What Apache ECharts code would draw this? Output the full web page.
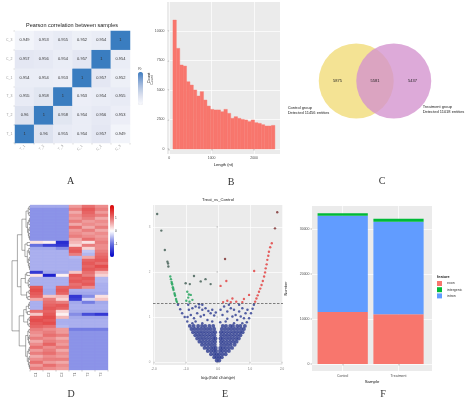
<!DOCTYPE html>
<html><head><meta charset="utf-8">
<script src="https://cdn.jsdelivr.net/npm/echarts@6/dist/echarts.min.js"></script>
<style>html,body{margin:0;padding:0;background:#fff}#c{width:474px;height:399px}</style>
</head><body><div id="c"></div>
<script>
// ---------- A: Pearson correlation ----------
const corrSamples = ['T_1','T_2','T_3','C_1','C_2','C_3'];
const corrValues = [
  [1, 0.96, 0.955, 0.954, 0.957, 0.949],
  [0.96, 1, 0.958, 0.954, 0.956, 0.953],
  [0.955, 0.958, 1, 0.953, 0.954, 0.955],
  [0.954, 0.954, 0.953, 1, 0.957, 0.952],
  [0.957, 0.956, 0.954, 0.957, 1, 0.954],
  [0.949, 0.953, 0.955, 0.952, 0.954, 1]
];
// ---------- B: length histogram ----------
const lengthBinStarts = [90,170,250,330,410,490,570,650,730,810,890,970,1050,1130,1210,1290,1370,1450,1530,1610,1690,1770,1850,1930,2010,2090,2170,2250,2330,2410];
const lengthBinWidth = 80;
const lengthCounts = [10930,8530,7120,7030,5700,5420,5000,4490,4860,4150,3640,3360,3310,3310,3160,3360,3020,2600,2740,2600,2510,2460,2320,2460,2230,2170,2060,1950,1950,2000];
const lengthTicks = [0,1000,2000];
const countTicks = [0,2500,5000,7500,10000];
// ---------- C: Venn ----------
const vennGroups = ['Control group','Treatment group'];
const vennOnly = [5875, 5437];
const vennShared = 5581;
// ---------- D: expression heatmap ----------
const heatCols = ['C1','C2','C3','T1','T2','T3'];
const heatRows = [
 [-0.6,-0.6,-0.6,0.7,1.0,0.8],
 [-0.75,-0.75,-0.75,0.9,1.2,0.9],
 [-0.75,-0.75,-0.75,0.6,1.1,0.7],
 [-0.75,-0.75,-0.75,0.8,1.0,0.9],
 [-0.75,-0.75,-0.75,0.7,0.9,0.6],
 [-0.75,-0.75,-0.75,0.9,0.7,0.8],
 [-0.75,-0.75,-0.75,0.6,0.8,0.7],
 [-0.75,-0.75,-0.75,1.0,0.6,0.9],
 [-0.75,-0.75,-0.75,0.7,0.9,0.6],
 [-0.75,-0.75,-0.75,0.8,0.7,0.8],
 [-0.75,-0.75,-0.75,0.9,0.8,0.7],
 [-0.75,-0.75,-0.75,0.6,1.0,0.8],
 [0.2,0.1,-1.6,0.5,0.2,0.9],
 [-1.0,-1.4,-1.5,0.3,0.9,0.8],
 [-0.6,-0.6,-0.8,1.1,0.3,0.8],
 [-0.55,-0.55,-0.55,1.2,-0.4,0.9],
 [-0.55,-0.55,-0.55,0.9,-0.5,1.0],
 [-0.55,-0.55,-0.55,-0.5,0.6,1.1],
 [-0.55,-0.55,-0.55,-0.55,1.1,1.2],
 [-0.55,-0.55,-0.55,-0.55,1.2,1.0],
 [-0.55,-0.55,-0.55,-0.55,1.1,1.3],
 [-0.55,-0.55,-0.55,-0.55,1.2,1.1],
 [-1.5,-0.6,-0.6,0.4,1.0,0.5],
 [0.2,-1.7,0.1,1.2,0.9,0.3],
 [-0.55,-0.55,-0.55,1.1,1.2,-0.5],
 [-0.55,-0.55,-0.55,1.2,1.1,-0.5],
 [-0.55,-0.55,-0.55,1.0,1.2,-0.55],
 [1.2,-0.55,1.1,1.1,0.8,-0.55],
 [1.3,-0.6,1.2,-0.55,-0.55,-0.55],
 [1.2,-0.6,1.1,-0.6,-0.6,-0.6],
 [1.1,0.4,0.5,-1.5,-0.8,0.2],
 [0.6,0.9,0.3,-1.4,-0.3,0.4],
 [-0.55,1.0,0.9,-0.6,-0.9,-0.6],
 [-0.55,1.1,1.2,-0.55,-0.55,-0.55],
 [-0.55,1.2,1.1,-0.55,-0.55,-0.55],
 [1.0,1.1,0.3,-0.6,-0.6,-0.6],
 [0.4,1.2,0.1,-0.8,-1.3,-1.5],
 [1.2,1.3,0.5,-0.6,-0.6,-0.6],
 [1.3,1.2,-0.55,-0.55,-0.55,-0.55],
 [1.2,1.3,-0.55,-0.55,-0.55,-0.55],
 [1.1,1.0,-0.5,-0.55,-0.55,-0.55],
 [0.9,0.8,0.7,-0.9,-0.9,-0.9],
 [0.8,0.9,0.7,-0.75,-0.75,-0.75],
 [0.7,1.0,0.9,-0.75,-0.75,-0.75],
 [0.9,0.8,0.6,-0.75,-0.75,-0.75],
 [0.6,0.9,0.8,-0.75,-0.75,-0.75],
 [0.8,1.1,0.7,-0.75,-0.75,-0.75],
 [1.0,0.8,0.9,-0.75,-0.75,-0.75],
 [0.7,0.9,0.6,-0.75,-0.75,-0.75],
 [0.9,1.0,0.8,-0.75,-0.75,-0.75],
 [0.6,0.8,0.7,-0.75,-0.75,-0.75],
 [0.8,0.9,0.9,-0.75,-0.75,-0.75],
 [1.0,0.7,0.6,-0.75,-0.75,-0.75],
 [0.7,1.0,0.8,-0.75,-0.75,-0.75],
 [0.9,0.8,0.7,-0.75,-0.75,-0.75]
];
// dendrogram: [height, left, right], leaves are row indices
const treeA = [2.2,[1.0,[0.5,0,1],[0.6,2,3]],[1.4,[0.7,[0.3,4,5],6],[0.9,[0.4,7,8],[0.6,9,[0.3,10,11]]]]];
const treeBC = [2.8,[1.6,12,13],[1.5,[0.7,14,[0.3,15,16]],[0.9,[0.4,17,18],[0.5,19,[0.3,20,21]]]]];
const treeDE = [2.6,[1.8,22,23],[1.0,[0.5,24,25],[0.6,26,27]]];
const treeF = [1.9,[0.6,28,29],[1.2,30,31]];
const treeG = [2.1,[0.8,[0.4,32,33],34],[1.4,35,36]];
const treeH = [1.3,[0.5,37,38],[0.6,39,40]];
const treeI = [2.4,[1.2,[0.6,41,42],[0.8,[0.4,43,44],[0.3,45,46]]],[1.5,[0.7,[0.4,47,48],49],[0.9,[0.4,50,51],[0.5,52,[0.3,53,54]]]]];
const treeRoot = [10,[7,[4.5,treeA,treeBC],[5,treeDE,treeF]],[6,[3.5,treeG,treeH],treeI]];
// ---------- E: volcano ----------
const volcanoBlue = [
[-0.04,0.03],[0.04,0.03],
[-0.12,0.1],[-0.04,0.1],[0.04,0.1],[0.12,0.1],
[-0.22,0.17],[-0.12,0.17],[-0.04,0.17],[0.04,0.17],[0.14,0.17],[0.24,0.17],
[-0.32,0.24],[-0.22,0.24],[-0.13,0.24],[-0.06,0.24],[0.06,0.24],[0.14,0.24],[0.24,0.24],[0.34,0.24],
[-0.42,0.31],[-0.32,0.31],[-0.22,0.31],[-0.14,0.31],[-0.07,0.31],[0.07,0.31],[0.15,0.31],[0.24,0.31],[0.34,0.31],[0.44,0.31],
[-0.5,0.38],[-0.4,0.38],[-0.3,0.38],[-0.2,0.38],[-0.1,0.38],[0.1,0.38],[0.2,0.38],[0.3,0.38],[0.4,0.38],[0.52,0.38],
[-0.58,0.45],[-0.48,0.45],[-0.38,0.45],[-0.28,0.45],[-0.18,0.45],[-0.09,0.45],[0.09,0.45],[0.18,0.45],[0.28,0.45],[0.38,0.45],[0.48,0.45],[0.58,0.45],
[-0.65,0.52],[-0.55,0.52],[-0.45,0.52],[-0.35,0.52],[-0.25,0.52],[-0.15,0.52],[-0.08,0.52],[0.08,0.52],[0.16,0.52],[0.26,0.52],[0.36,0.52],[0.46,0.52],[0.56,0.52],[0.65,0.52],
[-0.71,0.59],[-0.61,0.59],[-0.51,0.59],[-0.41,0.59],[-0.31,0.59],[-0.21,0.59],[-0.11,0.59],[0.1,0.59],[0.2,0.59],[0.3,0.59],[0.4,0.59],[0.5,0.59],[0.6,0.59],[0.7,0.59],
[-0.78,0.66],[-0.68,0.66],[-0.58,0.66],[-0.48,0.66],[-0.38,0.66],[-0.28,0.66],[-0.18,0.66],[-0.09,0.66],[0.09,0.66],[0.18,0.66],[0.28,0.66],[0.38,0.66],[0.48,0.66],[0.58,0.66],[0.68,0.66],[0.77,0.66],
[-0.83,0.73],[-0.73,0.73],[-0.63,0.73],[-0.53,0.73],[-0.43,0.73],[-0.33,0.73],[-0.23,0.73],[-0.12,0.73],[0.12,0.73],[0.22,0.73],[0.32,0.73],[0.42,0.73],[0.52,0.73],[0.62,0.73],[0.72,0.73],[0.81,0.73],
[-0.88,0.8],[-0.76,0.8],[-0.62,0.8],[-0.5,0.8],[-0.4,0.8],[-0.27,0.8],[-0.15,0.8],[0.15,0.8],[0.25,0.8],[0.38,0.8],[0.47,0.8],[0.6,0.8],[0.7,0.8],[0.84,0.8],
[-0.96,0.9],[-1.04,1.0],[-1.12,1.08],[-1.18,1.17],[-1.25,1.27],
[0.9,0.88],[0.97,0.97],[1.03,1.08],[1.08,1.18],[1.12,1.27],
[-0.91,1.16],[-0.8,1.19],[-0.7,1.23],[-0.59,1.21],[-0.49,1.16],[-0.39,1.19],[-0.3,1.13],[-0.65,1.08],[-0.54,1.01],[-0.44,1.04],[-0.23,1.08],[-0.18,1.16],[-0.12,1.03],[-0.85,1.04],[-0.75,0.97],[-0.95,1.0],[-0.7,0.9],[-0.33,0.93],[-0.49,0.86],[-0.18,0.9],
[0.08,1.16],[0.19,1.23],[0.29,1.12],[0.4,1.19],[0.5,1.16],[0.55,1.04],[0.66,1.12],[0.76,1.19],[0.86,1.08],[0.45,1.01],[0.29,0.96],[0.14,1.04],[0.6,0.93],[0.81,0.97],[0.92,1.16],[0.71,1.01],[0.34,1.27],[0.24,0.9],[0.07,0.88],[-0.49,1.27],[-0.93,1.27],[0.5,0.86],[0.76,0.86],[-0.8,0.86],[-0.07,1.1],[-0.59,1.28],[0.66,1.27]
];
const volcanoGreen = [[-1.28,1.33],[-1.31,1.4],[-1.34,1.47],[-1.36,1.53],[-1.39,1.6],[-1.41,1.66],[-1.43,1.72],[-1.45,1.78],[-1.47,1.84],[-1.49,1.9],[-1.3,1.36],[-1.35,1.5],[-1.4,1.63],[-1.44,1.75],[-0.96,1.56],[-0.91,1.5],[-0.93,1.43],[-0.85,1.49],[-0.8,1.38],[-0.89,1.34],[-0.99,1.36]];
const volcanoGreenDark = [[-1.9,3.29],[-1.77,2.92],[-1.66,2.49],[-1.58,2.23],[-1.56,2.19],[-1.55,2.12],[-1.01,1.75],[-0.88,1.73],[-0.75,1.91],[-0.54,1.79],[-0.39,1.84],[-0.23,1.73]];
const volcanoRed = [[1.16,1.34],[1.2,1.41],[1.24,1.48],[1.28,1.56],[1.32,1.63],[1.36,1.71],[1.4,1.8],[1.44,1.9],[1.47,1.99],[1.49,2.08],[1.52,2.17],[1.54,2.27],[1.57,2.36],[1.59,2.45],[1.63,2.55],[1.68,2.64],[0.26,1.8],[0.08,1.69],[0.16,1.33],[0.29,1.36],[0.4,1.33],[0.45,1.41],[0.57,1.34],[0.81,1.4],[0.97,1.49],[0.76,1.33],[1.13,2.02]];
const volcanoRedDark = [[1.78,2.97],[1.85,3.33],[0.22,2.29]];
const pThreshold = 1.301;
const fcTicks = [-2,-1,0,1,2];
const logPTicks = [0,1,2,3];
// ---------- F: feature stacked bars ----------
const sampleNames = ['Control','Treatment'];
const exonCounts = [11550, 11040];
const intronCounts = [21400, 20580];
const intergenicCounts = [550, 620];
const numberTicks = [0,10000,20000,30000];

// ================= build =================
const FONT = 'Liberation Sans, Arial, sans-serif';
const lab = (o) => Object.assign({fontSize:3.5, color:'#4d4d4d', fontFamily:FONT, formatter:(v)=>String(v)}, o||{});
const tick = (vals) => ({show:true, length:1.5, customValues: vals, lineStyle:{color:'#555', width:0.4}});
const whiteSplit = {show:true, lineStyle:{color:'#ffffff', width:0.7}};

const corrData = [];
corrValues.forEach((row, yi) => row.forEach((v, xi) => corrData.push([xi, yi, v])));
const heatData = [];
heatRows.forEach((row, r) => row.forEach((v, c) => heatData.push([c, r, v])));
const rowNames = heatRows.map((_, i) => 'g' + (i + 1));

const dendroSegs = [];
function flatten(node) {
  if (typeof node === 'number') return {pos: node, h: 0};
  const a = flatten(node[1]), b = flatten(node[2]);
  dendroSegs.push([node[0], a.pos, b.pos, a.h, b.h]);
  return {pos: (a.pos + b.pos) / 2, h: node[0]};
}
flatten(treeRoot);

const histData = lengthBinStarts.map((s, i) => [s, s + lengthBinWidth, lengthCounts[i]]);

// stacked feature layers (bottom -> top)
const featureLayers = [
  {name:'exon', vals:exonCounts, color:'#f8766d'},
  {name:'intron', vals:intronCounts, color:'#619cff'},
  {name:'intergenic', vals:intergenicCounts, color:'#00ba38'}
];
const featureBase = sampleNames.map(() => 0);
const featureSeries = featureLayers.map(layer => {
  const data = layer.vals.map((v, i) => { const b = featureBase[i]; featureBase[i] += v; return [i + 1, b, b + v]; });
  return {name:layer.name, type:'custom', xAxisIndex:6, yAxisIndex:6, data:data, silent:true, itemStyle:{color:layer.color}, encode:{x:0, y:[1,2]},
    renderItem:(params, api)=>{
      const x = api.value(0);
      const p0 = api.coord([x - 0.45, api.value(2)]);
      const p1 = api.coord([x + 0.45, api.value(1)]);
      return {type:'rect', shape:{x:p0[0], y:p0[1], width:p1[0]-p0[0], height:p1[1]-p0[1]}, style:{fill:layer.color}};
    }};
});

const option = {
  animation: false,
  backgroundColor: '#ffffff',
  textStyle: {fontFamily: FONT},
  grid: [
    {left:15, top:31, width:115, height:112, outerBoundsMode:'none'},
    {left:167, top:2, width:113, height:152, show:true, backgroundColor:'#ebebeb', borderWidth:0, outerBoundsMode:'none'},
    {left:300, top:43.5, width:150, height:75, outerBoundsMode:'none'},
    {left:30, top:205, width:78, height:165, outerBoundsMode:'none'},
    {left:12, top:205, width:18, height:165, outerBoundsMode:'none'},
    {left:153, top:205, width:130, height:160, show:true, backgroundColor:'#ebebeb', borderWidth:0, outerBoundsMode:'none'},
    {left:312, top:206, width:120, height:165, show:true, backgroundColor:'#ebebeb', borderWidth:0, outerBoundsMode:'none'}
  ],
  xAxis: [
    {gridIndex:0, type:'category', data:corrSamples, axisLine:{show:false}, axisTick:{show:true, length:1.5, lineStyle:{color:'#999', width:0.4}}, axisLabel:lab({rotate:45, margin:2.5, color:'#999'}), splitLine:{show:false}},
    {gridIndex:1, type:'value', min:-50, max:2610, axisLine:{show:false}, axisTick:tick(lengthTicks), axisLabel:lab({customValues:lengthTicks, margin:2}), splitLine:whiteSplit,
      name:'Length (nt)', nameLocation:'middle', nameGap:8.5, nameTextStyle:{fontSize:4, color:'#111', fontFamily:FONT}},
    {gridIndex:2, type:'value', min:-2, max:2, show:false},
    {gridIndex:3, type:'category', data:heatCols, axisLine:{show:false}, axisTick:{show:true, length:1.5, lineStyle:{color:'#777', width:0.4}}, axisLabel:lab({rotate:90, margin:2.5, color:'#666'})},
    {gridIndex:4, type:'value', min:0, max:10, inverse:true, show:false},
    {gridIndex:5, type:'value', min:-2.03, max:2.03, axisLine:{show:false}, axisTick:tick(fcTicks), axisLabel:lab({customValues:fcTicks, margin:3, fontSize:3, color:'#777', formatter:(v)=>v.toFixed(1)}), splitLine:whiteSplit,
      name:'log\u2082(fold change)', nameLocation:'middle', nameGap:11, nameTextStyle:{fontSize:4, color:'#111', fontFamily:'DejaVu Sans, sans-serif'}},
    {gridIndex:6, type:'value', min:0.45, max:2.6, axisLine:{show:false}, axisTick:tick([1,2]), axisLabel:lab({customValues:[1,2], margin:3, formatter:(v)=>sampleNames[Math.round(v)-1]}), splitLine:whiteSplit,
      name:'Sample', nameLocation:'middle', nameGap:9, nameTextStyle:{fontSize:4.3, color:'#111', fontFamily:FONT}}
  ],
  yAxis: [
    {gridIndex:0, type:'category', data:corrSamples, axisLine:{show:false}, axisTick:{show:true, length:1.5, lineStyle:{color:'#999', width:0.4}}, axisLabel:lab({margin:2.5, color:'#999'}), splitLine:{show:false}},
    {gridIndex:1, type:'value', min:-425, max:12460, axisLine:{show:false}, axisTick:tick(countTicks), axisLabel:lab({customValues:countTicks, margin:2.5}), splitLine:whiteSplit,
      name:'Count', nameLocation:'middle', nameGap:14, nameTextStyle:{fontSize:4, color:'#111', fontFamily:FONT}},
    {gridIndex:2, type:'value', min:-1, max:1, show:false},
    {gridIndex:3, type:'category', data:rowNames, inverse:true, show:false},
    {gridIndex:4, type:'value', min:-0.5, max:54.5, inverse:true, show:false},
    {gridIndex:5, type:'value', min:-0.07, max:3.49, axisLine:{show:false}, axisTick:tick(logPTicks), axisLabel:lab({customValues:logPTicks, margin:2.5, fontSize:3, color:'#999'}), splitLine:whiteSplit},
    {gridIndex:6, type:'value', min:-1560, max:35100, axisLine:{show:false}, axisTick:tick(numberTicks), axisLabel:lab({customValues:numberTicks, margin:2.5}), splitLine:whiteSplit,
      name:'Number', nameLocation:'middle', nameGap:24, nameTextStyle:{fontSize:4, color:'#111', fontFamily:FONT}}
  ],
  visualMap: [
    {type:'continuous', seriesIndex:0, min:0.945, max:1, left:138, top:72, itemWidth:5, itemHeight:33, padding:0, calculable:false, show:true, showLabel:false,
      inRange:{color:['#f8f8fc','#f1f3f9','#e8ebf5','#dde2ef','#d0d9eb','#c1cfe6','#b0c3e1','#9db6db','#87a8d5','#6f99ce','#568ac7','#3a7dc0']}},
    {type:'continuous', seriesIndex:3, dimension:2, min:-2, max:2, left:110, top:205, itemWidth:4, itemHeight:52, padding:0, calculable:false, show:true, showLabel:false,
      inRange:{color:['#0000c8','#6670e0','#ffffff','#e87070','#dd0000']}}
  ],
  legend: {data:['exon','intergenic','intron'], orient:'vertical', left:437, top:281, itemWidth:5, itemHeight:5, itemGap:1.2, padding:0, icon:'rect',
    textStyle:{fontSize:3.5, color:'#333', fontFamily:FONT}, selectedMode:false},
  series: [
    {type:'heatmap', xAxisIndex:0, yAxisIndex:0, data:corrData, silent:true,
      label:{show:true, fontSize:4, color:'#333', fontFamily:FONT, formatter:(p)=>String(p.value[2])}},
    {type:'custom', xAxisIndex:1, yAxisIndex:1, data:histData, silent:true, encode:{x:[0,1], y:2},
      renderItem:(params, api)=>{
        const p0 = api.coord([api.value(0), api.value(2)]);
        const p1 = api.coord([api.value(1), 0]);
        return {type:'rect', shape:{x:p0[0], y:p0[1], width:p1[0]-p0[0], height:p1[1]-p0[1]}, style:{fill:'#f8766d', stroke:'#f8766d', lineWidth:0.4}};
      }},
    {type:'custom', xAxisIndex:2, yAxisIndex:2, data:[[0,0]], silent:true,
      renderItem:(params, api)=>{
        const c1 = api.coord([-0.5,0]), c2 = api.coord([0.5,0]);
        const r = api.size([1,0])[0];
        const ts = (t, x, y, align) => ({type:'text', style:{text:t, x:x, y:y, align:align||'center', verticalAlign:'middle', fontSize:4, fill:'#222', fontFamily:FONT, lineHeight:5.5}});
        return {type:'group', children:[
          {type:'circle', shape:{cx:c1[0], cy:c1[1], r:r}, style:{fill:'#f4e394'}},
          {type:'circle', shape:{cx:c2[0], cy:c2[1], r:r}, style:{fill:'rgba(212,146,206,0.78)'}},
          ts(String(vennOnly[0]), (c1[0]-r + c2[0]-r)/2, c1[1]),
          ts(String(vennShared), (c1[0]+c2[0])/2, c1[1]),
          ts(String(vennOnly[1]), (c1[0]+r + c2[0]+r)/2, c2[1]),
          ts(vennGroups[0] + '\nDetected ' + (vennOnly[0]+vennShared) + ' entities', c1[0]-1.83*r, c1[1]+0.79*r, 'left'),
          ts(vennGroups[1] + '\nDetected ' + (vennOnly[1]+vennShared) + ' entities', c2[0]+0.77*r, c2[1]+0.76*r, 'left')
        ]};
      }},
    {type:'custom', xAxisIndex:3, yAxisIndex:3, data:heatData, silent:true, encode:{x:0, y:1},
      renderItem:(params, api)=>{
        const p = api.coord([api.value(0), api.value(1)]);
        const s = api.size([1, 1]);
        const col = api.visual('color');
        return {type:'rect', shape:{x:p[0]-s[0]/2, y:p[1]-s[1]/2, width:s[0], height:s[1]}, style:{fill:col, stroke:col, lineWidth:0.35}};
      }},
    {type:'custom', xAxisIndex:4, yAxisIndex:4, data:dendroSegs, silent:true,
      renderItem:(params, api)=>{
        const h=api.value(0), ya=api.value(1), yb=api.value(2), ha=api.value(3), hb=api.value(4);
        return {type:'polyline', shape:{points:[api.coord([ha,ya]), api.coord([h,ya]), api.coord([h,yb]), api.coord([hb,yb])]}, style:{stroke:'#555', lineWidth:0.5, fill:null}};
      }},
    {type:'scatter', xAxisIndex:5, yAxisIndex:5, data:volcanoBlue, symbolSize:(v)=> v[1] < 0.84 ? 3.9 : 2.5, itemStyle:{color:'#2b3990'}, silent:true,
      markLine:{silent:true, symbol:'none', label:{show:false}, lineStyle:{type:[2.5,1.5], color:'#333', width:0.6}, data:[{yAxis:pThreshold}]}},
    {type:'scatter', xAxisIndex:5, yAxisIndex:5, data:volcanoGreen, symbolSize:2.4, itemStyle:{color:'#1fa35a'}, silent:true},
    {type:'scatter', xAxisIndex:5, yAxisIndex:5, data:volcanoGreenDark, symbolSize:2.4, itemStyle:{color:'#3d5a50'}, silent:true},
    {type:'scatter', xAxisIndex:5, yAxisIndex:5, data:volcanoRed, symbolSize:2.4, itemStyle:{color:'#e23a3a'}, silent:true},
    {type:'scatter', xAxisIndex:5, yAxisIndex:5, data:volcanoRedDark, symbolSize:2.4, itemStyle:{color:'#7a2b2b'}, silent:true}
  ].concat(featureSeries),
  graphic: [
    {type:'text', x:72, y:25, style:{text:'Pearson correlation between samples', align:'center', verticalAlign:'middle', fontSize:5.5, fill:'#222', fontFamily:FONT}},
    {type:'text', x:140, y:69, style:{text:'R\u00b2', align:'center', verticalAlign:'middle', fontSize:3.5, fill:'#444', fontFamily:FONT}},
    {type:'text', x:152, y:80, rotation:Math.PI/2, style:{text:'Count', align:'center', verticalAlign:'middle', fontSize:3.5, fill:'#444', fontFamily:FONT}},
    {type:'text', x:218, y:200, style:{text:'Treat_vs_Control', align:'center', verticalAlign:'middle', fontSize:4.2, fill:'#222', fontFamily:FONT}},
    {type:'text', x:116, y:218, style:{text:'1', align:'center', verticalAlign:'middle', fontSize:3.2, fill:'#444', fontFamily:FONT}},
    {type:'text', x:116, y:231, style:{text:'0', align:'center', verticalAlign:'middle', fontSize:3.2, fill:'#444', fontFamily:FONT}},
    {type:'text', x:116, y:244, style:{text:'-1', align:'center', verticalAlign:'middle', fontSize:3.2, fill:'#444', fontFamily:FONT}},
    {type:'text', x:437, y:277, style:{text:'feature', align:'left', verticalAlign:'middle', fontSize:3.8, fontWeight:'bold', fill:'#222', fontFamily:FONT}},
    {type:'text', x:70.5, y:181, style:{text:'A', align:'center', verticalAlign:'middle', fontSize:10, fill:'#333', fontFamily:'Liberation Serif, serif'}},
    {type:'text', x:231, y:182, style:{text:'B', align:'center', verticalAlign:'middle', fontSize:10, fill:'#333', fontFamily:'Liberation Serif, serif'}},
    {type:'text', x:382, y:181, style:{text:'C', align:'center', verticalAlign:'middle', fontSize:10, fill:'#333', fontFamily:'Liberation Serif, serif'}},
    {type:'text', x:71, y:394, style:{text:'D', align:'center', verticalAlign:'middle', fontSize:10, fill:'#333', fontFamily:'Liberation Serif, serif'}},
    {type:'text', x:225, y:394, style:{text:'E', align:'center', verticalAlign:'middle', fontSize:10, fill:'#333', fontFamily:'Liberation Serif, serif'}},
    {type:'text', x:383, y:394, style:{text:'F', align:'center', verticalAlign:'middle', fontSize:10, fill:'#333', fontFamily:'Liberation Serif, serif'}}
  ]
};
const chart = echarts.init(document.getElementById('c'), null, {renderer:'canvas', width:474, height:399});
chart.setOption(option);
</script>
</body></html>
